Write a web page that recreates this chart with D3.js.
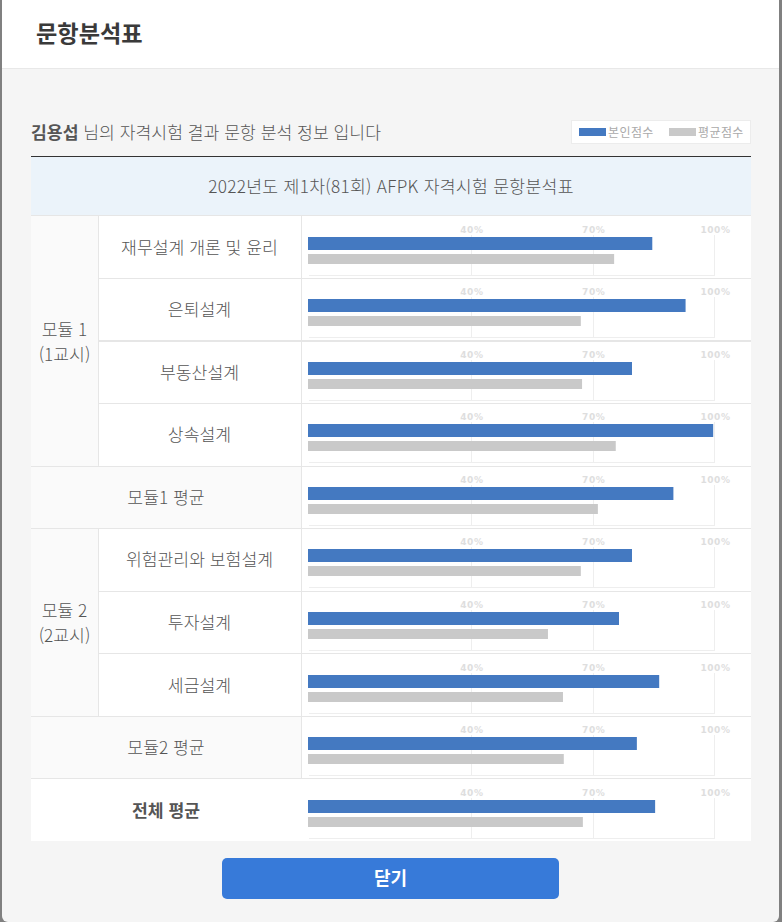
<!DOCTYPE html>
<html lang="ko">
<head>
<meta charset="utf-8">
<title>문항분석표</title>
<script src="https://cdn.jsdelivr.net/npm/d3@7/dist/d3.min.js"></script>
<style>
    html, body { margin: 0; padding: 0; background: #808080; overflow: hidden; }
    svg { display: block; }
    text { font-family: "Noto Sans CJK KR", "Noto Sans", sans-serif; }
</style>
</head>
<body>
<div id="chart"></div>
<script>
const subjects = ["재무설계 개론 및 윤리", "은퇴설계", "부동산설계", "상속설계", "모듈1 평균", "위험관리와 보험설계", "투자설계", "세금설계", "모듈2 평균", "전체 평균"];
const myScores = [84.8, 93, 79.8, 99.8, 90, 79.8, 76.6, 86.5, 81, 85.5];
const avgScores = [75.4, 67.2, 67.5, 75.8, 71.4, 67.2, 59.1, 62.8, 63, 67.7];
const tickValues = [40, 70, 100];
const legendKeys = ["본인점수", "평균점수"];
const legendColors = ["#4479c1", "#c9c9c9"];
const modules = [
    {name: "모듈 1", sub: "(1교시)", from: 0, to: 3},
    {name: "모듈 2", sub: "(2교시)", from: 5, to: 7}
];
const fullWidthRows = ["모듈1 평균", "모듈2 평균", "전체 평균"];

const width = 782, height = 922;
const tableLeft = 31, tableRight = 751, groupRight = 98, labelRight = 301;
const bodyFont = "17.2px";
const textColor = "#555";
const ruleColor = "#e6e6e6";
const svg = d3.select("#chart").append("svg")
    .attr("width", width)
    .attr("height", height);

// modal box
svg.append("rect").attr("x", 2).attr("y", -10).attr("width", 777).attr("height", 932)
    .attr("rx", 6).style("fill", "#f5f5f5");
svg.append("path").attr("d", "M2 0H779V68H2Z").style("fill", "#fff");
svg.append("line").attr("x1", 2).attr("x2", 779).attr("y1", 68.5).attr("y2", 68.5).style("stroke", "#e8e8e8");
svg.append("text").attr("x", 36).attr("y", 42).text("문항분석표")
    .style("font-size", "23.2px").style("font-weight", 700).style("fill", "#3a3a3a");

// intro line
const intro = svg.append("text").attr("x", 31).attr("y", 139)
    .style("font-size", bodyFont).style("font-weight", 300).style("fill", textColor);
intro.append("tspan").text("김용섭").style("font-weight", 700);
intro.append("tspan").text(" 님의 자격시험 결과 문항 분석 정보 입니다");

// legend
svg.append("rect").attr("x", 571.5).attr("y", 120.5).attr("width", 179).attr("height", 23)
    .style("fill", "#fff").style("stroke", "#ececec");
const legendX = d3.scalePoint().domain(legendKeys).range([579, 669]);
legendKeys.forEach(function (d, i) {
    svg.append("rect").attr("x", legendX(d)).attr("y", 128).attr("width", 27).attr("height", 8)
        .style("fill", legendColors[i]);
    svg.append("text").attr("x", legendX(d) + 29).attr("y", 136.5).text(d)
        .style("font-size", "12px").style("letter-spacing", "0.4px").style("fill", "#aaa");
});

// table head
svg.append("line").attr("x1", tableLeft).attr("x2", tableRight).attr("y1", 156.5).attr("y2", 156.5)
    .style("stroke", "#333");
svg.append("rect").attr("x", tableLeft).attr("y", 157).attr("width", tableRight - tableLeft).attr("height", 58.5)
    .style("fill", "#ebf3fa");
svg.append("text").attr("x", 391).attr("y", 193).attr("text-anchor", "middle")
    .text("2022년도 제1차(81회) AFPK 자격시험 문항분석표")
    .style("font-size", bodyFont).style("letter-spacing", "0.3px").style("font-weight", 300).style("fill", textColor);

// scales
const x = d3.scaleLinear().domain([0, 100]).range([308, 714]);
const rowY = d3.scaleBand().domain(subjects).range([215.55, 841.35]);
const rowH = rowY.bandwidth();

svg.append("rect").attr("x", tableLeft).attr("y", 216).attr("width", tableRight - tableLeft).attr("height", 625)
    .style("fill", "#fff");

// one row per subject
subjects.forEach(function (name, i) {
    const top = Math.round(rowY(name));
    const isFull = fullWidthRows.indexOf(name) >= 0;
    const isTotal = i === subjects.length - 1;
    const g = svg.append("g");

    if (isFull && !isTotal) {
        g.append("rect").attr("x", tableLeft).attr("y", top).attr("width", labelRight - tableLeft).attr("height", rowH)
            .style("fill", "#fafafa");
    }

    // grid and tick labels
    const axis = d3.axisTop(x).tickValues(tickValues).tickFormat(function (d) { return d + "%"; })
        .tickSize(0);
    const axisG = g.append("g").attr("transform", "translate(1," + (top + 19) + ")").call(axis);
    axisG.select(".domain").remove();
    axisG.selectAll("text").attr("y", -2)
        .style("font-family", "'DejaVu Sans', sans-serif").style("font-size", "9px").style("font-weight", 700)
        .style("letter-spacing", "0.6px").style("fill", "#dedede");

    g.selectAll(".grid").data(tickValues).enter().append("line")
        .attr("x1", function (d) { return Math.ceil(x(d)) + 0.5; })
        .attr("x2", function (d) { return Math.ceil(x(d)) + 0.5; })
        .attr("y1", top + 19).attr("y2", top + 59.5)
        .style("stroke", "#eee");
    g.append("line").attr("x1", 309).attr("x2", x(100) + 1).attr("y1", top + 59.5).attr("y2", top + 59.5)
        .style("stroke", "#eee");

    // bars
    g.append("rect").attr("x", x(0)).attr("y", top + 21).attr("width", x(myScores[i]) - x(0)).attr("height", 13)
        .style("fill", legendColors[0]);
    g.append("rect").attr("x", x(0)).attr("y", top + 38).attr("width", x(avgScores[i]) - x(0)).attr("height", 10)
        .style("fill", legendColors[1]);

    // label
    const cx = isFull ? (tableLeft + labelRight) / 2 : (groupRight + labelRight) / 2;
    g.append("text").attr("x", cx).attr("y", top + rowH / 2 + 7).attr("text-anchor", "middle").text(name)
        .style("font-size", bodyFont).style("font-weight", isTotal ? 700 : 300).style("fill", textColor);
});

// module group cells
modules.forEach(function (m) {
    const top = rowY(subjects[m.from]);
    const bottom = rowY(subjects[m.to]) + rowH;
    svg.append("rect").attr("x", tableLeft).attr("y", top).attr("width", groupRight - tableLeft).attr("height", bottom - top)
        .style("fill", "#fafafa");
    const mid = (top + bottom) / 2;
    svg.append("text").attr("x", (tableLeft + groupRight) / 2).attr("y", mid - 5).attr("text-anchor", "middle").text(m.name)
        .style("font-size", bodyFont).style("font-weight", 300).style("fill", textColor);
    svg.append("text").attr("x", (tableLeft + groupRight) / 2).attr("y", mid + 20).attr("text-anchor", "middle").text(m.sub)
        .style("font-size", bodyFont).style("font-weight", 300).style("fill", textColor);
});

// table rules, the one under 은퇴설계 is doubled in the reference
subjects.forEach(function (name, i) {
    const thick = i === 2;
    const top = thick ? 341 : Math.floor(rowY(name) + 0.2) + 0.5;
    const inGroup = modules.some(function (m) { return i > m.from && i <= m.to; });
    svg.append("line").attr("x1", inGroup ? groupRight : tableLeft).attr("x2", tableRight)
        .attr("y1", top).attr("y2", top).style("stroke", ruleColor).style("stroke-width", thick ? 2 : 1);
});
modules.forEach(function (m) {
    svg.append("line").attr("x1", groupRight + 0.5).attr("x2", groupRight + 0.5)
        .attr("y1", rowY(subjects[m.from])).attr("y2", rowY(subjects[m.to]) + rowH).style("stroke", ruleColor);
});
svg.append("line").attr("x1", labelRight + 0.5).attr("x2", labelRight + 0.5)
    .attr("y1", 216).attr("y2", rowY(subjects[subjects.length - 1])).style("stroke", ruleColor);

// close button
svg.append("rect").attr("x", 222).attr("y", 858).attr("width", 337).attr("height", 41).attr("rx", 5)
    .style("fill", "#377ad9");
svg.append("text").attr("x", 390.5).attr("y", 885).attr("text-anchor", "middle").text("닫기")
    .style("font-size", "18px").style("font-weight", 700).style("fill", "#fff");
</script>
</body>
</html>
